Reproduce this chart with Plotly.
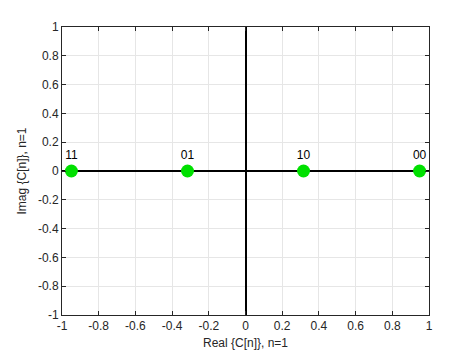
import plotly.graph_objects as go

real_vals = [-0.9487, -0.3162, 0.3162, 0.9487]
imag_vals = [0, 0, 0, 0]
labels = ["11", "01", "10", "00"]
tick_vals = [-1, -0.8, -0.6, -0.4, -0.2, 0, 0.2, 0.4, 0.6, 0.8, 1]
tick_text = ["-1", "-0.8", "-0.6", "-0.4", "-0.2", "0", "0.2", "0.4", "0.6", "0.8", "1"]

fig = go.Figure()
fig.add_trace(go.Scatter(
    x=real_vals, y=imag_vals, mode="markers+text", text=labels,
    textposition="top center",
    textfont=dict(family="Liberation Sans, Arial", size=12, color="#000000"),
    marker=dict(size=13, color="#00e000", line=dict(width=0)),
    cliponaxis=False, showlegend=False,
))

axis_common = dict(
    range=[-1, 1], tickvals=tick_vals, ticktext=tick_text,
    showgrid=True, gridcolor="#e6e6e6", gridwidth=1,
    zeroline=True, zerolinecolor="#000000", zerolinewidth=1.5,
    showline=True, linecolor="#262626", linewidth=1, mirror="ticks",
    ticks="inside", ticklen=4, tickcolor="#262626", automargin=False,
    tickfont=dict(family="Liberation Sans, Arial", size=12, color="#262626"),
    title_font=dict(family="Liberation Sans, Arial", size=12, color="#262626"),
)

fig.update_xaxes(**axis_common, title_text="Real {C[n]}, n=1", title_standoff=6)
fig.update_yaxes(**axis_common, title_text="Imag {C[n]}, n=1", title_standoff=8)

fig.update_layout(
    width=474, height=355,
    margin=dict(l=62, r=45, t=27, b=40),
    paper_bgcolor="white", plot_bgcolor="white",
)

fig.write_html("out.html")
